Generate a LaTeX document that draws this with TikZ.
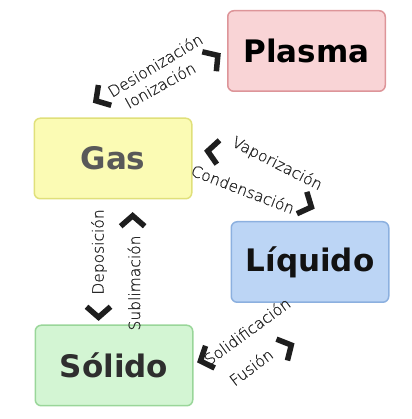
\documentclass[tikz,border=0pt]{standalone}
\usepackage{fontspec}
\setmainfont{DejaVu Sans}
\newfontfamily\thinfont{DejaVu Sans ExtraLight}[FakeBold=0.8]
\usetikzlibrary{decorations.markings}
\tikzset{
  estado/.style={rectangle, rounded corners=6pt, line width=1.5pt, outer sep=0pt, inner sep=0pt,
    minimum width=157.5pt, minimum height=80.5pt, font=\fontsize{31}{36}\selectfont\bfseries},
  cambio/.style={inner sep=0pt, outer sep=0pt, text=labelColor, font=\thinfont\fontsize{15.5}{18}\selectfont},
  flecha/.style={postaction={decorate}, decoration={markings, mark=at position -#1 with {
    \draw[draw=chevColor, line width=5.5pt, line join=miter] (-14pt,12pt) -- (-3.5pt,0pt) -- (-14pt,-12pt);}}}
}
\begin{document}
\begin{tikzpicture}[x=1pt,y=1pt]
\definecolor{plasmaFill}{RGB}{249,212,214}
\definecolor{plasmaDraw}{RGB}{221,149,153}
\definecolor{gasFill}{RGB}{251,251,180}
\definecolor{gasDraw}{RGB}{224,224,122}
\definecolor{liqFill}{RGB}{188,213,245}
\definecolor{liqDraw}{RGB}{140,176,223}
\definecolor{solFill}{RGB}{211,245,211}
\definecolor{solDraw}{RGB}{153,214,153}
\definecolor{labelColor}{RGB}{40,40,40}
\definecolor{chevColor}{RGB}{30,30,30}
\path[use as bounding box] (0,0) rectangle (411,419);

\node[estado, fill=plasmaFill, draw=plasmaDraw, text=black] (plasma) at (306.5,368) {Plasma};
\node[estado, fill=gasFill, draw=gasDraw, text=black!65] (gas) at (113,260.5) {Gas};
\node[estado, fill=liqFill, draw=liqDraw, text=black!93] (liquido) at (310,157) {Líquido};
\node[estado, fill=solFill, draw=solDraw, text=black!82] (solido) at (114,53.5) {Sólido};

\path[flecha=29.2pt] (plasma.157) -- (gas.138);
\path[flecha=8.6pt] (gas.66) -- (plasma.178);
\path[flecha=32pt] (gas.4) -- (liquido.50);
\path[flecha=12.5pt] (liquido.130) to[out=100,in=2] (gas.6);
\path[flecha=4.5pt] (gas.250) -- (solido.111);
\path[flecha=13.5pt] (solido.65) -- (gas.296);
\path[flecha=90pt] (solido.339) -- (liquido.328);
\path[flecha=4.8pt] (liquido.309) -- (solido.1);

\node[cambio, rotate=31] (ldesion) at (155,354) {Desionización};
\node[cambio, rotate=29] (lion) at (160,334) {Ionización};
\node[cambio, rotate=-27] (lvapor) at (277,255) {Vaporización};
\node[cambio, rotate=-21] (lconden) at (243,230) {Condensación};
\node[cambio, rotate=90] (ldepos) at (99,167) {Deposición};
\node[cambio, rotate=90] (lsublim) at (134,136) {Sublimación};
\node[cambio, rotate=36] (lsolid) at (247,88) {Solidificación};
\node[cambio, rotate=37] (lfusion) at (251,52) {Fusión};
\end{tikzpicture}
\end{document}
